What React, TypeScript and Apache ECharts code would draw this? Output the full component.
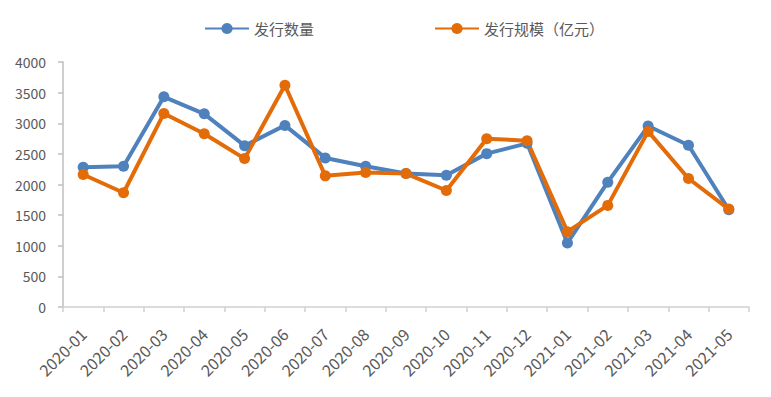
import React, { useEffect, useRef } from "react";
import * as echarts from "echarts";

const categories = [
  "2020-01", "2020-02", "2020-03", "2020-04", "2020-05", "2020-06", "2020-07", "2020-08", "2020-09",
  "2020-10", "2020-11", "2020-12", "2021-01", "2021-02", "2021-03", "2021-04", "2021-05",
];
const countValues = [2281, 2298, 3431, 3154, 2634, 2965, 2434, 2298, 2179, 2152, 2504, 2672, 1046, 2038, 2954, 2640, 1588];
const scaleValues = [2163, 1865, 3160, 2829, 2423, 3621, 2141, 2195, 2179, 1902, 2748, 2715, 1230, 1659, 2867, 2098, 1599];
const seriesNames = ["发行数量", "发行规模（亿元）"];

const FONT = "'Noto Sans CJK SC', 'Noto Sans', sans-serif";

export default function App() {
  const ref = useRef<HTMLDivElement>(null);
  useEffect(() => {
    if (!ref.current) return;
    const chart = echarts.init(ref.current, undefined, { renderer: "svg" });
    chart.setOption({
      animation: false,
      textStyle: { fontFamily: FONT },
      legend: {
        top: 16,
        left: 199,
        itemGap: 120,
        itemWidth: 44,
        itemHeight: 14,
        textStyle: { color: "#595959", fontSize: 15, fontFamily: FONT },
        data: seriesNames,
      },
      grid: { left: 63, right: 22, top: 62, bottom: 90, containLabel: false },
      xAxis: {
        type: "category",
        data: categories,
        boundaryGap: true,
        axisLine: { show: true, lineStyle: { color: "#d0d0d0", width: 1.5 } },
        axisTick: { show: true, alignWithLabel: false, length: 5, lineStyle: { color: "#d0d0d0", width: 1.5 } },
        axisLabel: { rotate: 45, color: "#595959", fontSize: 16, fontFamily: FONT, margin: 24, interval: 0 },
      },
      yAxis: {
        type: "value",
        min: 0,
        max: 4000,
        interval: 500,
        axisLine: { show: true, lineStyle: { color: "#bfbfbf", width: 1.5 } },
        axisTick: { show: true, length: 5, lineStyle: { color: "#bfbfbf", width: 1.5 } },
        splitLine: { show: false },
        axisLabel: { color: "#595959", fontSize: 14, fontFamily: FONT, margin: 17, formatter: (v: number) => String(v) },
      },
      series: [
        {
          name: seriesNames[0],
          type: "line",
          data: countValues,
          symbol: "circle",
          symbolSize: 11,
          lineStyle: { color: "#4F81BD", width: 4 },
          itemStyle: { color: "#4F81BD" },
        },
        {
          name: seriesNames[1],
          type: "line",
          data: scaleValues,
          symbol: "circle",
          symbolSize: 11,
          lineStyle: { color: "#E36C09", width: 4 },
          itemStyle: { color: "#E36C09" },
        },
      ],
    });
    return () => chart.dispose();
  }, []);
  return <div ref={ref} style={{ width: 771, height: 397, position: "absolute", left: 0, top: 0 }} />;
}
